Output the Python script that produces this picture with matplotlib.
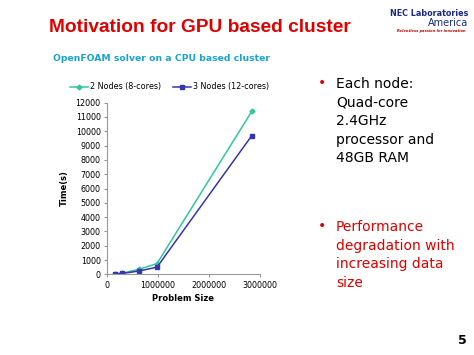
import matplotlib.pyplot as plt

sizes = [150000, 300000, 630000, 980000, 2840000]
time_2nodes = [50, 80, 350, 750, 11400]
time_3nodes = [30, 60, 230, 500, 9700]
series_labels = ['2 Nodes (8-cores)', '3 Nodes (12-cores)']
xticks = [0, 1000000, 2000000, 3000000]
yticks = list(range(0, 12001, 1000))

W, H = 474, 355
fig = plt.figure(figsize=(W / 100, H / 100), dpi=100)
fig.patch.set_facecolor('white')

# axes box in pixel coords (left, top, right, bottom)
l, t, r, b = 107, 102.7, 260, 274.3
ax = fig.add_axes([l / W, 1 - b / H, (r - l) / W, (b - t) / H])

ax.plot(sizes, time_2nodes, color='#2fc79c', marker='D', markersize=2.5,
        linewidth=1.1, label=series_labels[0])
ax.plot(sizes, time_3nodes, color='#3535b0', marker='s', markersize=3.5,
        linewidth=1.1, label=series_labels[1])

ax.set_xlim(0, 3000000)
ax.set_ylim(0, 12000)
ax.set_xticks(xticks)
ax.set_xticklabels([str(v) for v in xticks])
ax.set_yticks(yticks)
ax.set_yticklabels([str(v) for v in yticks])
ax.tick_params(labelsize=5.8, length=2, color='#999999', pad=2.5)
for s in ['top', 'right']:
    ax.spines[s].set_visible(False)
for s in ['left', 'bottom']:
    ax.spines[s].set_color('#999999')
    ax.spines[s].set_linewidth(0.8)
ax.set_xlabel('Problem Size', fontsize=6, fontweight='bold', labelpad=3)
ax.set_ylabel('Time(s)', fontsize=6, fontweight='bold', labelpad=5)

ax.legend(loc='lower center', bbox_to_anchor=(0.41, 1.0), ncol=2, frameon=False,
          fontsize=5.8, handlelength=2.2, columnspacing=1.5, handletextpad=0.3,
          borderaxespad=1.0)

# slide text
fig.text(49 / W, 1 - 27 / H, 'Motivation for GPU based cluster', color='#e00000',
         fontsize=13.8, fontweight='bold', va='center', ha='left',
         family='Liberation Sans')
fig.text(53 / W, 1 - 58.5 / H, 'OpenFOAM solver on a CPU based cluster', color='#1ba3cf',
         fontsize=6.7, fontweight='bold', va='center', ha='left')

fig.text(468 / W, 1 - 14 / H, 'NEC Laboratories', color='#1a2a8a', fontsize=5.8,
         fontweight='bold', va='center', ha='right', family='Liberation Sans Narrow')
fig.text(468 / W, 1 - 23.5 / H, 'America', color='#1a2a8a', fontsize=7,
         va='center', ha='right')
fig.text(466 / W, 1 - 31 / H, 'Relentless passion for innovation', color='#c00000',
         fontsize=2.6, style='italic', fontweight='bold', va='center', ha='right')

lines1 = ['Each node:', 'Quad-core', '2.4GHz', 'processor and', '48GB RAM']
lines2 = ['Performance', 'degradation with', 'increasing data', 'size']
step = 18.6
fig.text(322 / W, 1 - 83 / H, '•', color='#e00000', fontsize=10, va='center', ha='center')
for i, s in enumerate(lines1):
    fig.text(336 / W, 1 - (84 + i * step) / H, s, color='black', fontsize=10,
             va='center', ha='left')
fig.text(322 / W, 1 - 226 / H, '•', color='#e00000', fontsize=10, va='center', ha='center')
for i, s in enumerate(lines2):
    fig.text(336 / W, 1 - (227 + i * step) / H, s, color='#e00000', fontsize=10,
             va='center', ha='left')

fig.text(467 / W, 1 - 340 / H, '5', color='black', fontsize=9, fontweight='bold',
         va='center', ha='right')

fig.savefig('out.png', dpi=100)
